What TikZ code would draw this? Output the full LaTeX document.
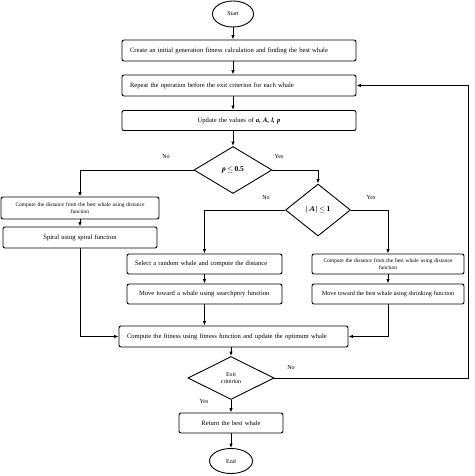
\documentclass[tikz,border=0pt]{standalone}
\usepackage{fontspec}
\setmainfont{Liberation Serif}
\usetikzlibrary{shapes.geometric,arrows.meta}
\tikzset{
  box/.style={draw, rounded corners=2pt, line width=0.9pt, fill=white, inner xsep=8pt, inner ysep=1pt, font=\fontsize{6.6}{7.5}\selectfont},
  sbox/.style={box, font=\fontsize{5.5}{6.3}\selectfont, align=center},
  dia/.style={draw, diamond, line width=0.9pt, inner sep=0pt, align=center},
  term/.style={draw, ellipse, line width=0.9pt, inner sep=0pt, font=\fontsize{6}{7}\selectfont},
  flow/.style={line width=0.9pt, -{Latex[length=4.5pt,width=3.5pt]}},
  lab/.style={font=\fontsize{6}{7}\selectfont}
}
\begin{document}
\begin{tikzpicture}[x=1pt,y=-1pt]
\useasboundingbox (0,0) rectangle (474,476);
\node[term, minimum width=41pt, minimum height=26pt] (start) at (233,14) {Start};
\node[box, minimum width=234pt, minimum height=21pt, text width=218pt, align=left] (b1) at (239,50.5) {Create an initial generation fitness calculation and finding the best whale};
\node[box, minimum width=234pt, minimum height=21pt, text width=218pt, align=left] (b2) at (239,85.5) {Repeat the operation before the exit criterion for each whale};
\node[box, minimum width=234pt, minimum height=20pt, text width=218pt, align=center] (b3) at (239,120.5) {Update the values of \textbf{\textit{a, A, l, p}}};
\node[dia, minimum width=78pt, minimum height=47pt, font=\fontsize{7.5}{8}\selectfont] (d1) at (233,170) {\textbf{\textit{p}}\,$\leq$\,\textbf{0.5}};
\node[sbox, minimum width=154pt, minimum height=22pt, text width=142pt] (L1) at (80,208) {Compute the distance from the best whale using distance\\function};
\node[box, minimum width=154pt, minimum height=21pt, text width=138pt, align=center] (L2) at (80,237.5) {Spiral using spiral function};
\node[dia, minimum width=65pt, minimum height=52pt, font=\fontsize{7.5}{8}\selectfont] (d2) at (318,210) {{\boldmath$|A|$}\,$\leq$\,\textbf{1}};
\node[box, minimum width=155pt, minimum height=20pt, text width=139pt, align=left] (M1) at (204.5,264) {Select a random whale and compute the distance};
\node[box, minimum width=155pt, minimum height=20pt, align=left, inner xsep=12pt, text width=131pt] (M2) at (204.5,294) {Move toward a whale using searchprey function};
\node[sbox, minimum width=152pt, minimum height=20pt, text width=142pt, inner xsep=5pt] (R1) at (388,264) {Compute the distance from the best whale using distance\\function};
\node[box, minimum width=152pt, minimum height=20pt, inner xsep=3pt, font=\fontsize{6.2}{7}\selectfont] (R2) at (388,294) {Move toward the best whale using shrinking function};
\node[box, minimum width=229pt, minimum height=21pt, text width=213pt, align=left] (F) at (233.5,336.5) {Compute the fitness using fitness function and update the optimum whale};
\node[dia, minimum width=86pt, minimum height=43pt, font=\fontsize{6}{7.5}\selectfont] (d3) at (231,378) {Exit\\criterion};
\node[box, minimum width=104pt, minimum height=20pt, text width=88pt, align=center] (ret) at (231,423) {Return the best whale};
\node[term, minimum width=43pt, minimum height=25pt] (end) at (231,461) {End};
\coordinate (loop) at (468,85.5);

\draw[flow] (start.south) -- (start.south |- b1.north);
\draw[flow] (start.south |- b1.south) -- (start.south |- b2.north);
\draw[flow] (start.south |- b2.south) -- (start.south |- b3.north);
\draw[flow] (start.south |- b3.south) -- (d1.north);
\draw[flow] (d1.west) -| (L1.north);
\draw[flow] (L1.south) -- (L2.north);
\draw[flow] (L2.south) |- (F.west);
\draw[flow] (d1.east) -| (d2.north);
\draw[flow] (d2.west) -| (M1.north);
\draw[flow] (d2.east) -| (R1.north);
\draw[flow] (M1.south) -- (M2.north);
\draw[flow] (M2.south) -- (M2.south |- F.north);
\draw[flow] (R1.south) -- (R2.north);
\draw[flow] (R2.south) |- (F.east);
\draw[flow] (d3.north |- F.south) -- (d3.north);
\draw[flow] (d3.south) -- (ret.north);
\draw[flow] (ret.south) -- (end.north);
\draw[flow] (d3.east) -| (loop) -- (b2.east);

\node[lab] at (166,157) {No};
\node[lab] at (279,157) {Yes};
\node[lab] at (266,198) {No};
\node[lab] at (371,198) {Yes};
\node[lab] at (291,368) {No};
\node[lab] at (204,402) {Yes};
\end{tikzpicture}
\end{document}
